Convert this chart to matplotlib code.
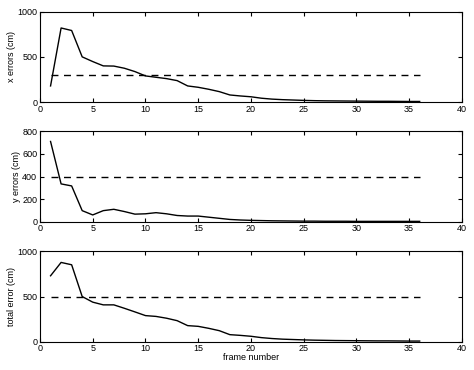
import matplotlib.pyplot as plt

plt.rcParams['font.family'] = ['Liberation Sans', 'DejaVu Sans']

frames = list(range(1, 37))

x_err = [178, 820, 792, 500, 448, 400, 398, 374, 337, 289, 274, 259, 237, 178, 163, 141, 115, 78, 67,
         58, 42, 32, 26, 22, 18, 15, 13, 12, 11, 10, 9, 8, 8, 7, 6, 6]
y_err = [711, 335, 317, 98, 60, 98, 110, 90, 67, 70, 80, 70, 55, 50, 50, 40, 30, 20, 15,
         12, 10, 8, 7, 6, 5, 5, 4, 4, 4, 3, 3, 3, 3, 3, 3, 3]
total_err = [730, 878, 852, 500, 438, 408, 408, 370, 330, 289, 280, 260, 233, 178, 170, 148, 122, 78, 70,
             60, 45, 35, 28, 24, 20, 17, 15, 13, 12, 11, 10, 9, 9, 8, 7, 7]

x_thresh = 300
y_thresh = 400
total_thresh = 500

fig = plt.figure(figsize=(4.74, 3.70), dpi=100)

panels = [
    (x_err, x_thresh, 'x errors (cm)', [0, 500, 1000], 1000, 0.7243),
    (y_err, y_thresh, 'y errors (cm)', [0, 200, 400, 600, 800], 800, 0.4008),
    (total_err, total_thresh, 'total error (cm)', [0, 500, 1000], 1000, 0.0765),
]

for vals, thresh, label, yticks, ymax, bottom in panels:
    ax = fig.add_axes([0.0844, bottom, 0.890, 0.244])
    ax.plot(frames, vals, color='black', linewidth=1.0)
    ax.plot([frames[0], frames[-1]], [thresh, thresh], color='black',
            linewidth=1.0, linestyle=(0, (5, 4)))
    ax.set_xlim(0, 40)
    ax.set_ylim(0, ymax)
    ax.set_xticks([0, 5, 10, 15, 20, 25, 30, 35, 40])
    ax.set_yticks(yticks)
    ax.tick_params(direction='in', top=True, right=True, labelsize=6.5, length=3, width=0.8, pad=2)
    ax.set_ylabel(label, fontsize=6.5, labelpad=1)
    for s in ax.spines.values():
        s.set_linewidth(0.8)

ax.set_xlabel('frame number', fontsize=6.5, labelpad=0)

fig.savefig('out.png', dpi=100)
